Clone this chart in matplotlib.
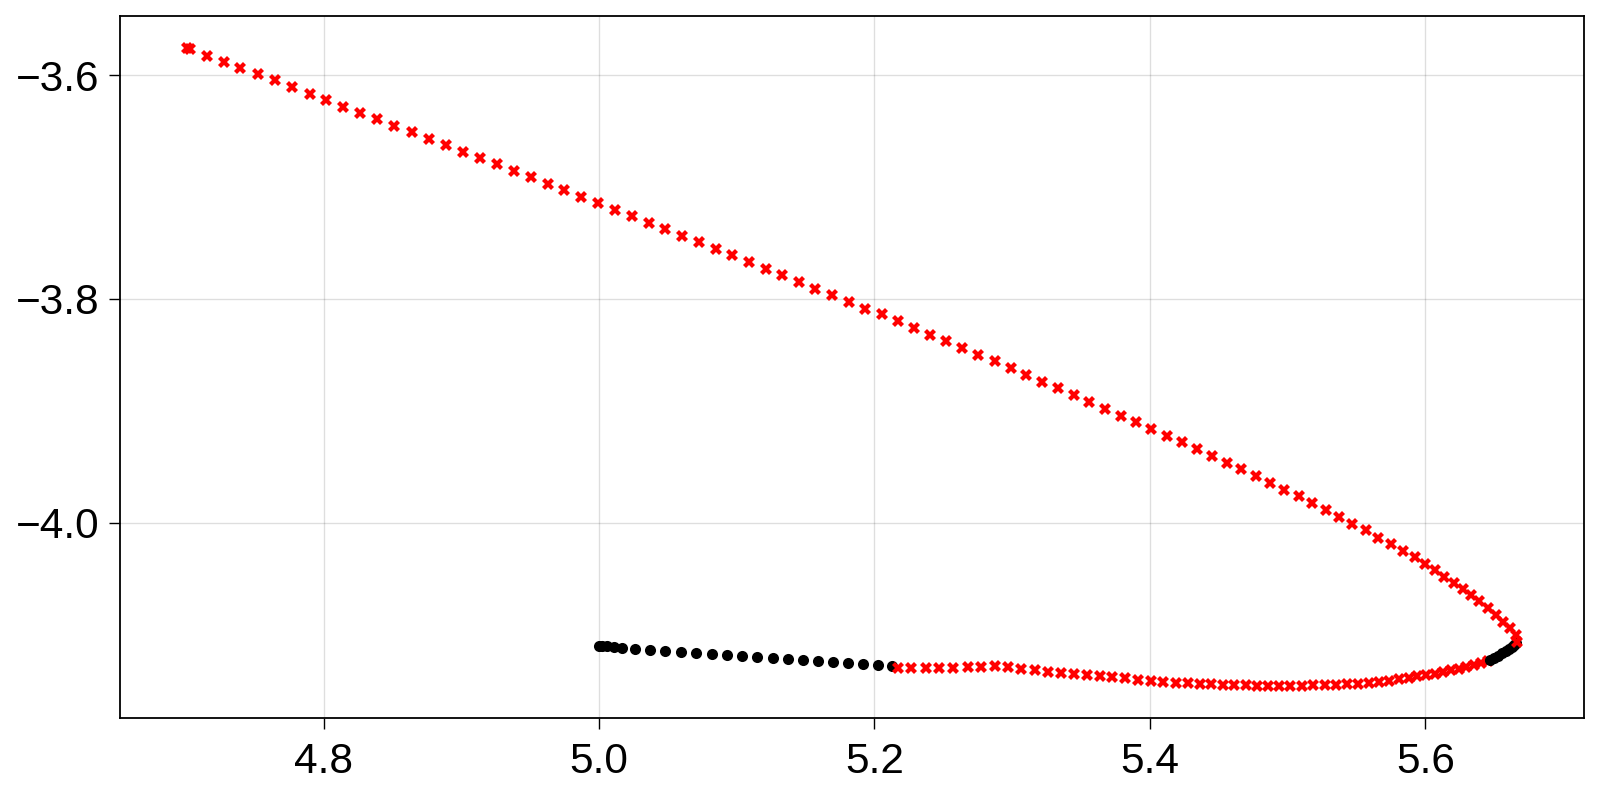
import matplotlib
matplotlib.use("Agg")
import matplotlib.pyplot as plt

plt.rcParams['font.family'] = ['Liberation Sans', 'DejaVu Sans']

# Trajectory segment 1 (black dots)
black1_x = [5.0000, 5.0025, 5.0060, 5.0110, 5.0170, 5.0260, 5.0370, 5.0480, 5.0595,
            5.0705, 5.0820, 5.0930, 5.1040, 5.1150, 5.1260, 5.1370, 5.1480, 5.1590,
            5.1700, 5.1805, 5.1915, 5.2025, 5.2130]
black1_y = [-4.1102, -4.1104, -4.1107, -4.1111, -4.1117, -4.1126, -4.1135, -4.1144,
            -4.1153, -4.1162, -4.1171, -4.1183, -4.1191, -4.1200, -4.1209, -4.1218,
            -4.1230, -4.1239, -4.1248, -4.1257, -4.1263, -4.1272, -4.1284]

# Trajectory segment 2 (red crosses, lower branch)
red1_x = [5.2172, 5.2269, 5.2373, 5.2472, 5.2574, 5.2676, 5.2772, 5.2874, 5.2970,
          5.3065, 5.3164, 5.3261, 5.3353, 5.3447, 5.3541, 5.3636, 5.3728, 5.3822,
          5.3914, 5.4006, 5.4095, 5.4187, 5.4277, 5.4361, 5.4446, 5.4531, 5.4610,
          5.4695, 5.4777, 5.4857, 5.4937, 5.5020, 5.5102, 5.5185, 5.5268, 5.5348,
          5.5428, 5.5508, 5.5588, 5.5664, 5.5737, 5.5809, 5.5878, 5.5943, 5.6006,
          5.6067, 5.6127, 5.6188, 5.6243, 5.6297, 5.6350, 5.6406, 5.6454]
red1_y = [-4.1296, -4.1301, -4.1302, -4.1301, -4.1299, -4.1292, -4.1287, -4.1280,
          -4.1287, -4.1306, -4.1321, -4.1332, -4.1341, -4.1352, -4.1361, -4.1375,
          -4.1385, -4.1394, -4.1406, -4.1415, -4.1424, -4.1430, -4.1435, -4.1442,
          -4.1447, -4.1451, -4.1453, -4.1456, -4.1458, -4.1459, -4.1459, -4.1459,
          -4.1458, -4.1455, -4.1452, -4.1450, -4.1445, -4.1440, -4.1432, -4.1424,
          -4.1413, -4.1401, -4.1388, -4.1376, -4.1364, -4.1350, -4.1337, -4.1319,
          -4.1305, -4.1287, -4.1272, -4.1254, -4.1236]

# Trajectory segment 3 (black dots, near the turn)
black2_x = [5.6473, 5.6502, 5.6531, 5.6560, 5.6586, 5.6609, 5.6629, 5.6647, 5.6662]
black2_y = [-4.1232, -4.1211, -4.1191, -4.1170, -4.1149, -4.1129, -4.1111, -4.1093, -4.1078]

# Trajectory segment 4 (red crosses, upper branch)
red2_x = [5.6669, 5.6660, 5.6616, 5.6567, 5.6514, 5.6454, 5.6393, 5.6330, 5.6270,
          5.6205, 5.6137, 5.6069, 5.5999, 5.5922, 5.5840, 5.5750, 5.5658, 5.5566,
          5.5469, 5.5375, 5.5278, 5.5179, 5.5083, 5.4976, 5.4874, 5.4770, 5.4664,
          5.4557, 5.4448, 5.4340, 5.4231, 5.4122, 5.4011, 5.3899, 5.3788, 5.3677,
          5.3561, 5.3447, 5.3333, 5.3220, 5.3104, 5.2988, 5.2872, 5.2755, 5.2636,
          5.2520, 5.2402, 5.2284, 5.2168, 5.2054, 5.1930, 5.1812, 5.1691, 5.1570,
          5.1451, 5.1330, 5.1210, 5.1089, 5.0967, 5.0847, 5.0726, 5.0602, 5.0481,
          5.0361, 5.0239, 5.0116, 4.9995, 4.9872, 4.9748, 4.9628, 4.9504, 4.9381,
          4.9258, 4.9134, 4.9011, 4.8888, 4.8764, 4.8641, 4.8515, 4.8391, 4.8268,
          4.8144, 4.8019, 4.7898, 4.7772, 4.7647, 4.7523, 4.7395, 4.7274, 4.7153,
          4.7028, 4.7005]
red2_y = [-4.1064, -4.1004, -4.0944, -4.0885, -4.0825, -4.0765, -4.0702, -4.0649,
          -4.0595, -4.0543, -4.0483, -4.0427, -4.0372, -4.0309, -4.0253, -4.0193,
          -4.0134, -4.0068, -4.0012, -3.9949, -3.9889, -3.9827, -3.9766, -3.9705,
          -3.9642, -3.9583, -3.9523, -3.9464, -3.9404, -3.9344, -3.9281, -3.9222,
          -3.9162, -3.9103, -3.9044, -3.8984, -3.8921, -3.8859, -3.8799, -3.8740,
          -3.8677, -3.8617, -3.8557, -3.8498, -3.8439, -3.8379, -3.8320, -3.8260,
          -3.8197, -3.8139, -3.8087, -3.8027, -3.7967, -3.7908, -3.7849, -3.7789,
          -3.7730, -3.7670, -3.7610, -3.7551, -3.7494, -3.7437, -3.7378, -3.7319,
          -3.7261, -3.7202, -3.7145, -3.7089, -3.7029, -3.6970, -3.6913, -3.6854,
          -3.6797, -3.6740, -3.6684, -3.6624, -3.6570, -3.6511, -3.6452, -3.6394,
          -3.6341, -3.6282, -3.6222, -3.6166, -3.6106, -3.6046, -3.5992, -3.5936,
          -3.5880, -3.5826, -3.5764, -3.5754]

xticks = [4.8, 5.0, 5.2, 5.4, 5.6]
yticks = [-4.0, -3.8, -3.6]

fig = plt.figure(figsize=(16, 8), dpi=100)
ax = fig.add_axes([0.075, 0.1029, 0.915, 0.8775])

dot_ms = 8.0
x_ms = 8.4
ax.plot(black1_x, black1_y, linestyle='none', marker='o', ms=dot_ms,
        color='black', mew=0, zorder=3)
ax.plot(red1_x, red1_y, linestyle='none', marker='X', ms=x_ms,
        color='red', mew=0, zorder=4)
ax.plot(black2_x, black2_y, linestyle='none', marker='o', ms=dot_ms,
        color='black', mew=0, zorder=5)
ax.plot(red2_x, red2_y, linestyle='none', marker='X', ms=x_ms,
        color='red', mew=0, zorder=6)

ax.margins(0.05)
ax.set_xticks(xticks)
ax.set_yticks(yticks)
ax.set_xticklabels([f"{t:.1f}" for t in xticks])
ax.set_yticklabels([f"\u2212{abs(t):.1f}" for t in yticks])
ax.grid(True, color='black', alpha=0.13, linewidth=1.0)
ax.set_axisbelow(True)
for s in ax.spines.values():
    s.set_linewidth(1.3)
    s.set_color('black')
ax.tick_params(axis='both', direction='out', length=7.8, width=1.0,
               labelsize=30.5, colors='black')
ax.tick_params(axis='x', pad=10)
ax.tick_params(axis='y', pad=7)

fig.savefig("out.png", dpi=100)
